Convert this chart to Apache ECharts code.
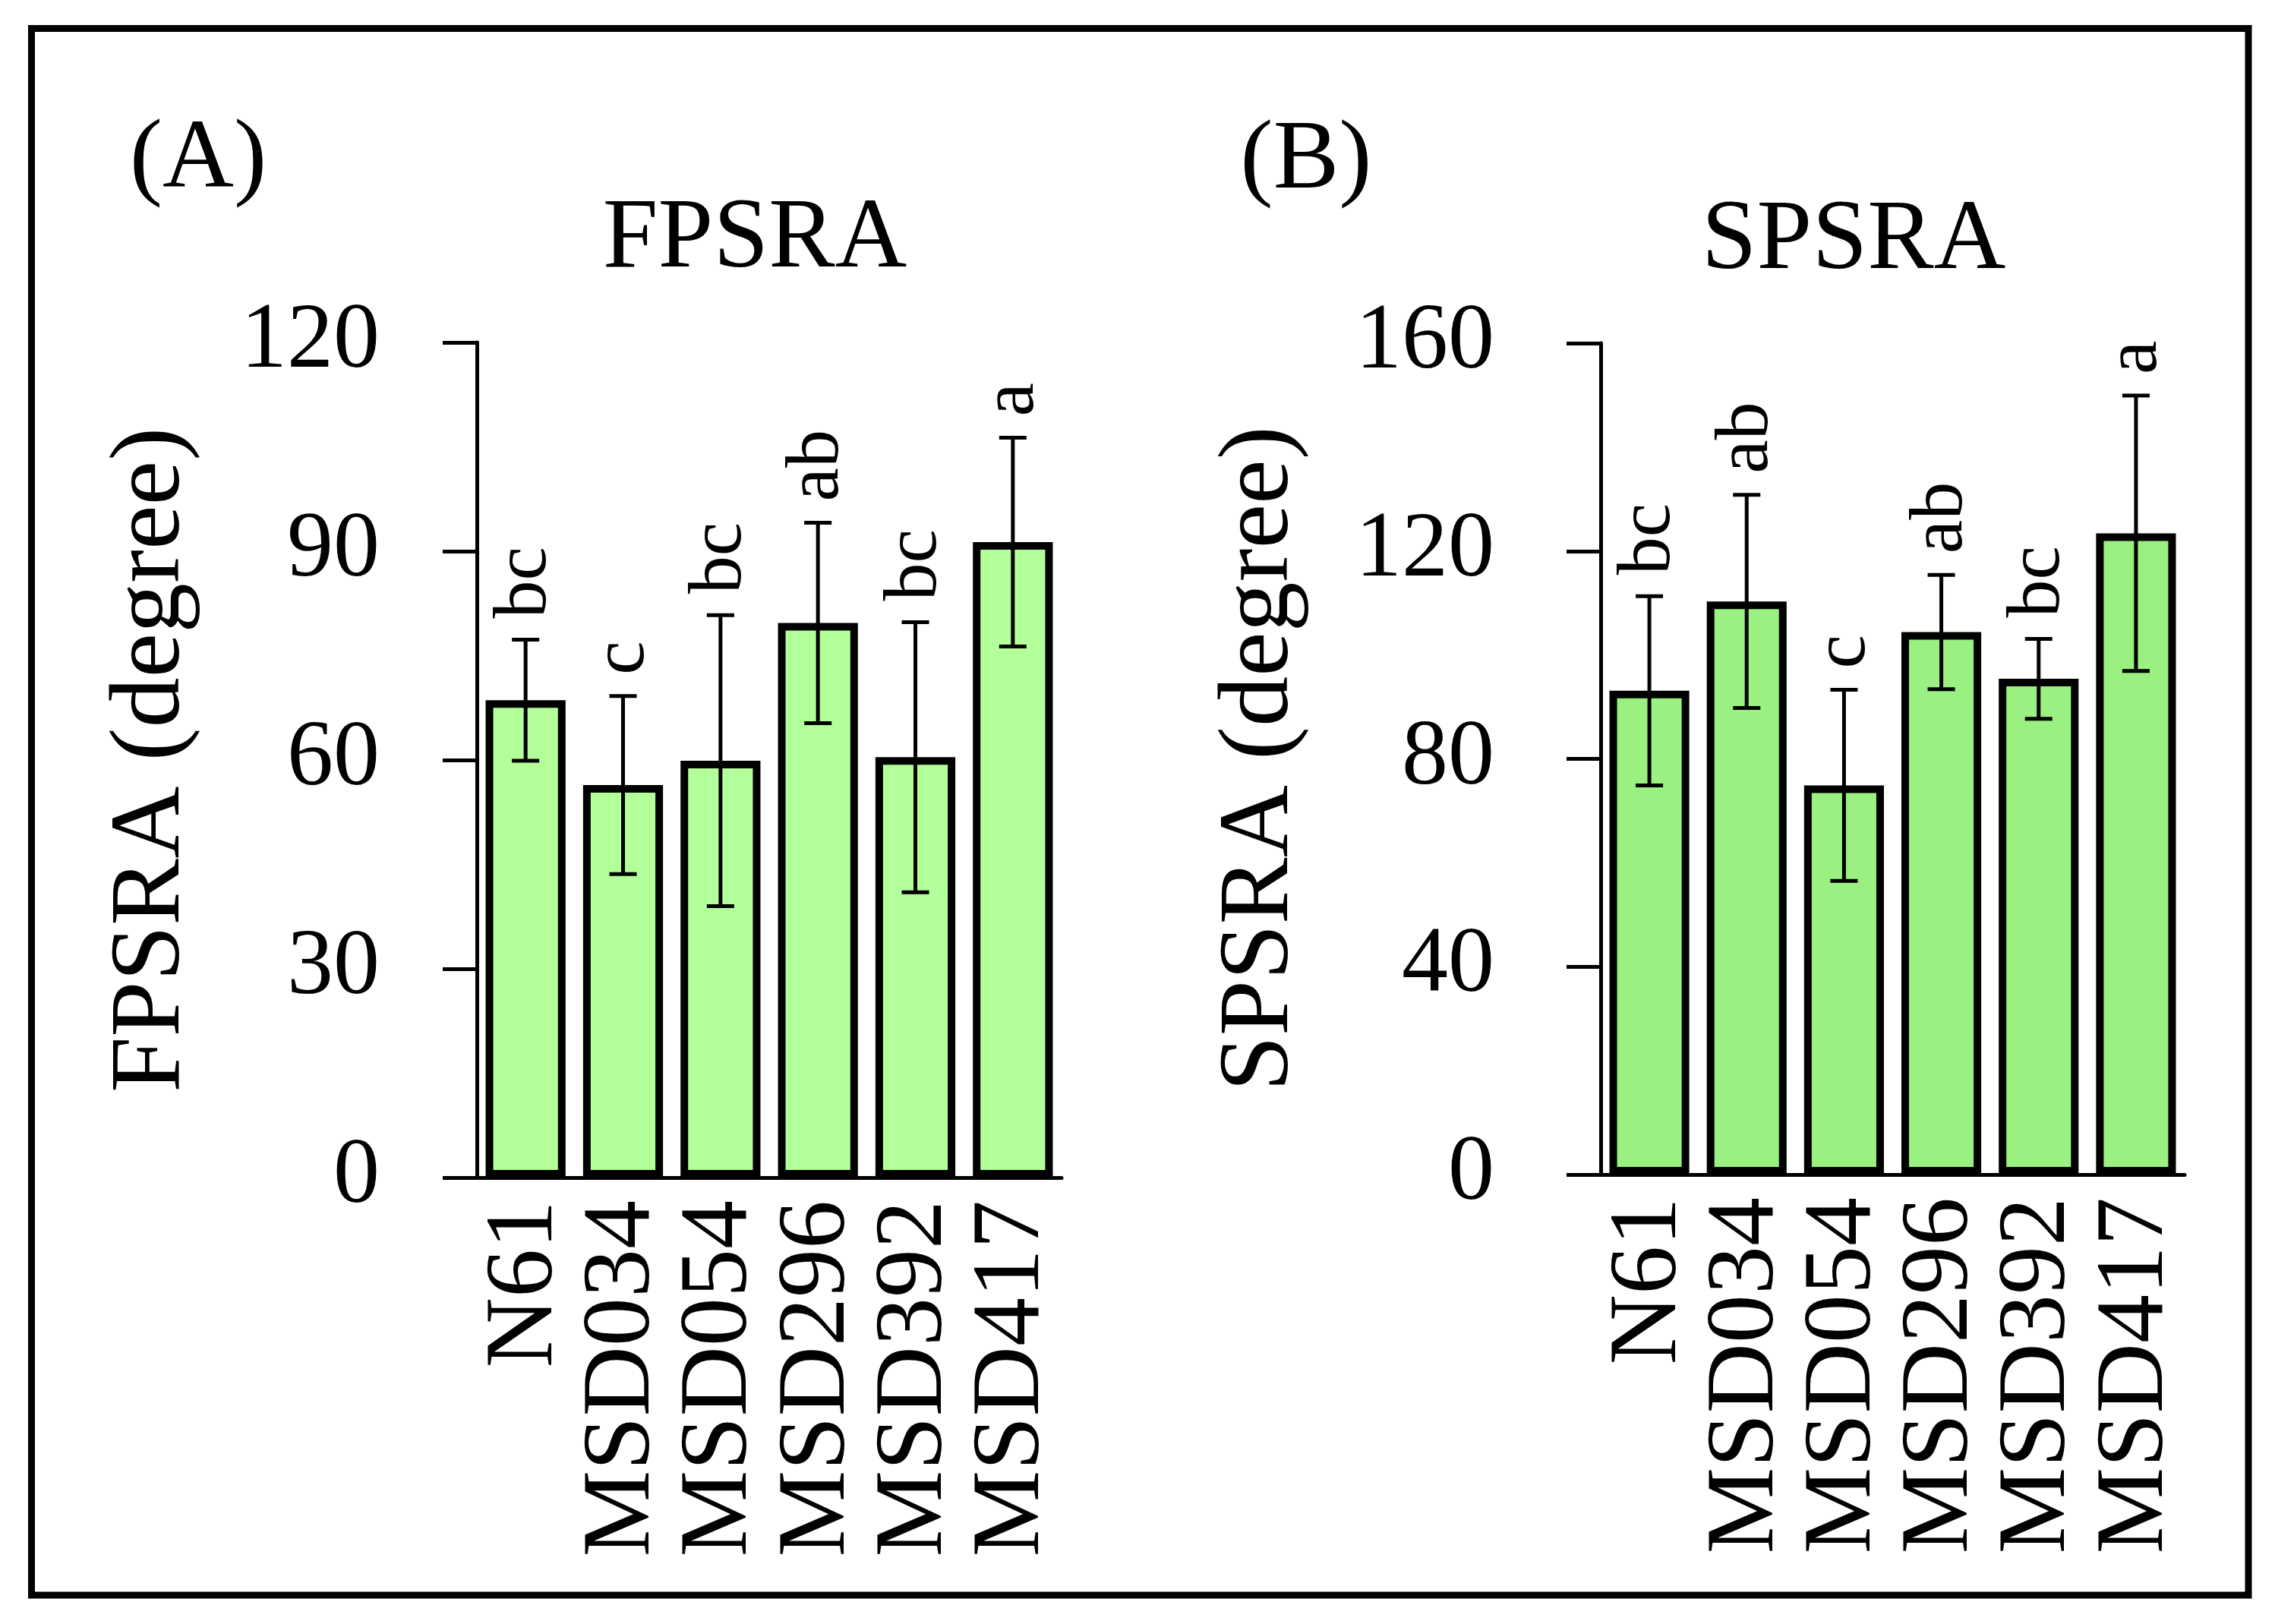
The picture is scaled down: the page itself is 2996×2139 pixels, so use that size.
<!DOCTYPE html>
<html>
<head>
<meta charset="utf-8">
<script src="https://cdn.jsdelivr.net/npm/echarts@6/dist/echarts.min.js"></script>
<style>
  html, body { margin: 0; padding: 0; background: #fff; }
  #chart { width: 2996px; height: 2139px; }
</style>
</head>
<body>
<div id="chart"></div>
<script>
// data
const categories = ["N61", "MSD034", "MSD054", "MSD296", "MSD392", "MSD417"];

const fpsraMean = [68.6, 56.4, 59.9, 79.7, 60.4, 91.3];
const fpsraErr = [8.7, 12.8, 20.9, 14.4, 19.4, 15.0];
const fpsraLetters = ["bc", "c", "bc", "ab", "bc", "a"];

const spsraMean = [93.1, 110.3, 74.9, 104.4, 95.4, 123.4];
const spsraErr = [18.2, 20.5, 18.4, 11.0, 7.7, 26.5];
const spsraLetters = ["bc", "ab", "c", "ab", "bc", "a"];

const fpsraTicks = { max: 120, interval: 30 };
const spsraTicks = { max: 160, interval: 40 };

const FONT = '"Liberation Serif", "Times New Roman", serif';

const chart = echarts.init(document.getElementById("chart"));

function errorSeries(axisIdx, means, errs, letters) {
  return {
    type: "custom",
    xAxisIndex: axisIdx,
    yAxisIndex: axisIdx,
    z: 10,
    data: means.map((m, i) => [i, m, errs[i]]),
    renderItem: function (params, api) {
      const i = api.value(0);
      const m = api.value(1);
      const e = api.value(2);
      const hi = api.coord([i, m + e]);
      const lo = api.coord([i, m - e]);
      const cap = 18;
      const ls = { stroke: "#000", lineWidth: 5 };
      return {
        type: "group",
        children: [
          { type: "line", shape: { x1: hi[0], y1: hi[1], x2: lo[0], y2: lo[1] }, style: ls },
          { type: "line", shape: { x1: hi[0] - cap, y1: hi[1], x2: hi[0] + cap, y2: hi[1] }, style: ls },
          { type: "line", shape: { x1: lo[0] - cap, y1: lo[1], x2: lo[0] + cap, y2: lo[1] }, style: ls },
          {
            type: "text",
            x: hi[0],
            y: hi[1] - 28,
            rotation: Math.PI / 2,
            style: {
              text: letters[params.dataIndex],
              font: "100px " + FONT,
              fill: "#000",
              align: "left",
              verticalAlign: "middle"
            }
          }
        ]
      };
    }
  };
}

function xAxisOpt(gridIdx) {
  return {
    type: "category",
    gridIndex: gridIdx,
    data: categories,
    axisLine: { lineStyle: { color: "#000", width: 5 } },
    axisTick: { length: 28, lineStyle: { color: "#000", width: 5 } },
    axisLabel: { interval: 0, rotate: 90, margin: 30, color: "#000", fontSize: 128, fontFamily: FONT }
  };
}

function yAxisOpt(gridIdx, ticks, name, nameGap, labelMargin) {
  return {
    type: "value",
    gridIndex: gridIdx,
    min: 0,
    max: ticks.max,
    interval: ticks.interval,
    name: name,
    nameLocation: "middle",
    nameGap: nameGap,
    nameTextStyle: { color: "#000", fontSize: 132, fontFamily: FONT },
    axisLine: { show: true, lineStyle: { color: "#000", width: 5 } },
    axisTick: { show: true, length: 45, lineStyle: { color: "#000", width: 5 } },
    axisLabel: { margin: labelMargin, color: "#000", fontSize: 122, fontFamily: FONT },
    splitLine: { show: false }
  };
}

const option = {
  animation: false,
  backgroundColor: "#fff",
  grid: [
    { left: 628, top: 451, width: 770, height: 1100 },
    { left: 2108, top: 452, width: 769, height: 1095 }
  ],
  xAxis: [xAxisOpt(0), xAxisOpt(1)],
  yAxis: [
    yAxisOpt(0, fpsraTicks, "FPSRA (degree)", 362, 128),
    yAxisOpt(1, spsraTicks, "SPSRA (degree)", 382, 140)
  ],
  graphic: [
    {
      type: "rect",
      shape: { x: 41.5, y: 37.5, width: 2919.5, height: 2063.5 },
      style: { fill: "none", stroke: "#000", lineWidth: 9 }
    },
    { type: "text", x: 261, y: 212, style: { text: "(A)", font: "130px " + FONT, fill: "#000", align: "center", verticalAlign: "middle" } },
    { type: "text", x: 1720, y: 213, style: { text: "(B)", font: "130px " + FONT, fill: "#000", align: "center", verticalAlign: "middle" } },
    { type: "text", x: 994, y: 317, style: { text: "FPSRA", font: "131px " + FONT, fill: "#000", align: "center", verticalAlign: "middle" } },
    { type: "text", x: 2441, y: 319, style: { text: "SPSRA", font: "131px " + FONT, fill: "#000", align: "center", verticalAlign: "middle" } }
  ],
  series: [
    {
      type: "bar",
      xAxisIndex: 0,
      yAxisIndex: 0,
      data: fpsraMean,
      barWidth: "82%",
      itemStyle: { color: "#B3FF99", borderColor: "#000", borderWidth: 10 }
    },
    errorSeries(0, fpsraMean, fpsraErr, fpsraLetters),
    {
      type: "bar",
      xAxisIndex: 1,
      yAxisIndex: 1,
      data: spsraMean,
      barWidth: "82%",
      itemStyle: { color: "#9AF080", borderColor: "#000", borderWidth: 10 }
    },
    errorSeries(1, spsraMean, spsraErr, spsraLetters)
  ]
};

chart.setOption(option);
</script>
</body>
</html>
